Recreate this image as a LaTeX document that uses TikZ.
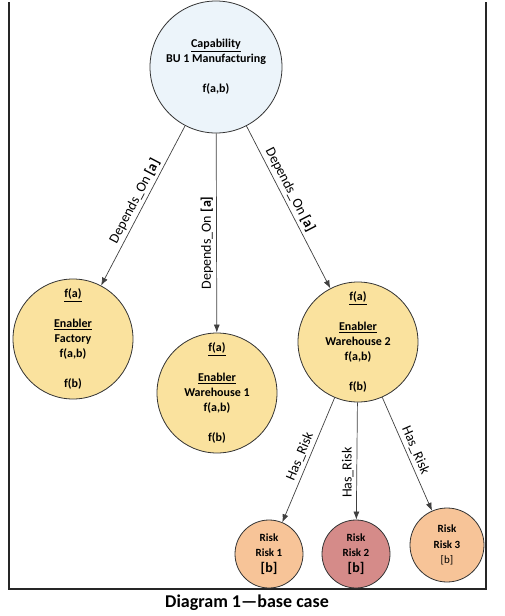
\documentclass[tikz,border=0pt]{standalone}
\usepackage{fontspec}
\setmainfont{Carlito}
\usetikzlibrary{arrows.meta}
\tikzset{>={Latex[length=8pt,width=6pt]}}
\definecolor{capcol}{RGB}{236,244,250}
\definecolor{enbcol}{RGB}{250,226,158}
\definecolor{riskcol}{RGB}{247,196,152}
\definecolor{riskhi}{RGB}{213,139,137}
\colorlet{linecol}{black!75}
\tikzset{
  ball/.style={circle,draw=black!80,line width=0.8pt,inner sep=0pt,align=center,
    font=\fontsize{12}{15}\selectfont\bfseries},
  riskball/.style={ball,fill=riskcol,minimum size=2*\rr,
    font=\fontsize{11}{15.5}\selectfont\bfseries},
  rel/.style={->,draw=linecol,line width=0.7pt},
  rellab/.style={font=\fontsize{14}{14}\selectfont,inner sep=3pt},
}
\begin{document}
\begin{tikzpicture}[x=1pt,y=-1pt]
  \def\R{66}  % radius capability
  \def\r{60}  % radius enabler
  \def\rr{34} % radius risk
  \useasboundingbox (0,0) rectangle (504,616);
  % frame, open at the top
  \draw[line width=2pt,black!85] (9,2) -- (9,589) -- (486,589) -- (486,2);

  \node[ball,fill=capcol,minimum size=2*\R] (cap) at (216,67)
    {\underline{Capability}\\BU 1 Manufacturing\\[15pt]f(a,b)};
  \node[ball,fill=enbcol,minimum size=2*\r] (fac) at (73,339)
    {\underline{f(a)}\\[15pt]\underline{Enabler}\\Factory\\f(a,b)\\[15pt]f(b)};
  \node[ball,fill=enbcol,minimum size=2*\r] (wh1) at (217,393)
    {\underline{f(a)}\\[15pt]\underline{Enabler}\\Warehouse 1\\f(a,b)\\[15pt]f(b)};
  \node[ball,fill=enbcol,minimum size=2*\r] (wh2) at (358,342)
    {\underline{f(a)}\\[15pt]\underline{Enabler}\\Warehouse 2\\f(a,b)\\[15pt]f(b)};
  \node[riskball] (rk1) at (269,554)
    {Risk\\Risk 1\\{\fontsize{14}{15}\selectfont[b]}};
  \node[riskball,fill=riskhi] (rk2) at (356,554)
    {Risk\\Risk 2\\{\fontsize{14}{15}\selectfont[b]}};
  \node[riskball,minimum size=74] (rk3) at (447,545)
    {Risk\\Risk 3\\{\mdseries[b]}};

  \draw[rel] (cap) -- (fac) node[rellab,midway,sloped,above] {Depends\_On \textbf{[a]}};
  \draw[rel] (cap) -- (wh1) node[rellab,pos=0.55,rotate=90,above] {Depends\_On \textbf{[a]}};
  \draw[rel] (cap) -- (wh2) node[rellab,pos=0.42,sloped,above] {Depends\_On \textbf{[a]}};
  \draw[rel] (wh2) -- (rk1) node[rellab,midway,sloped,above] {Has\_Risk};
  \draw[rel] (wh2) -- (rk2) node[rellab,pos=0.6,rotate=90,above] {Has\_Risk};
  \draw[rel] (wh2) -- (rk3) node[rellab,midway,sloped,above] {Has\_Risk};

  \node[font=\fontsize{18}{18}\selectfont\bfseries] (title) at (247,603) {Diagram 1—base case};
\end{tikzpicture}
\end{document}
